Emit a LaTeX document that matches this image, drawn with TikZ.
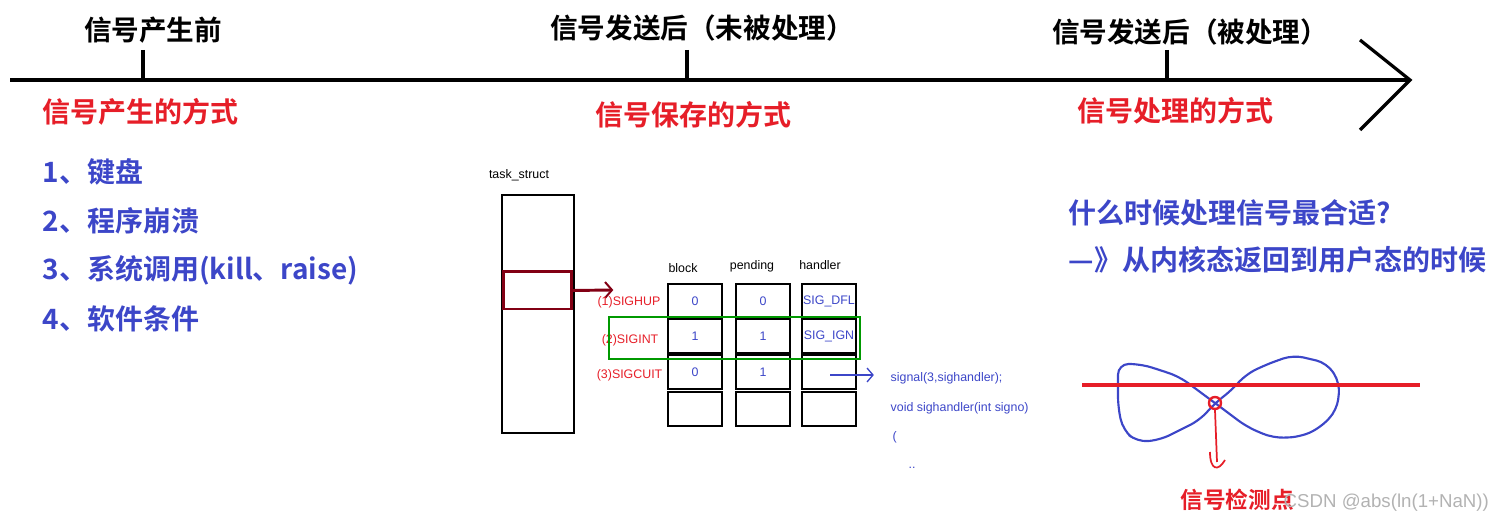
\documentclass[tikz,border=0pt]{standalone}
\usepackage{fontspec}
\setmainfont{Liberation Sans}
\newfontfamily\cjk{Noto Sans CJK SC}[BoldFont={Noto Sans CJK SC Bold}]
\begin{document}
\begin{tikzpicture}[x=0.75pt,y=-0.75pt,
  head/.style={font=\cjk\bfseries\fontsize{20.7}{22}\selectfont},
  redhead/.style={head,text=sigred},
  bluet/.style={font=\cjk\bfseries\fontsize{21}{23}\selectfont,text=sigblue,anchor=west},
  cell/.style={draw,line width=1.6pt,minimum width=40pt,minimum height=26pt,inner sep=0pt},
  small/.style={font=\fontsize{9.3}{11}\selectfont}]
\definecolor{sigred}{RGB}{230,30,40}
\definecolor{sigblue}{RGB}{60,70,200}
\definecolor{dred}{RGB}{130,0,20}
\useasboundingbox (0,0) rectangle (1500,523);
% timeline
\coordinate (tl0) at (10,80); \coordinate (tl1) at (1410,80);
\draw[line width=2.4pt] (tl0) -- (tl1);
\draw[line width=2.4pt] (1360,40) -- (tl1) -- (1360,130);
\foreach \x in {143,687,1167} \draw[line width=2.4pt] (\x,50) -- (\x,80);
\node[head] (hd1) at (153,30) {信号产生前};
\node[head] (hd2) at (702,28) {信号发送后（未被处理）};
\node[head] (hd3) at (1190,32) {信号发送后（被处理）};
\node[redhead,font=\cjk\bfseries\fontsize{21}{23}\selectfont] (r1) at (140,112) {信号产生的方式};
\node[redhead,font=\cjk\bfseries\fontsize{21}{23}\selectfont] (r2) at (693,115) {信号保存的方式};
\node[redhead,font=\cjk\bfseries\fontsize{21}{23}\selectfont] (r3) at (1175,111) {信号处理的方式};
% left list
\node[bluet] (l1) at (38,172) {1、键盘};
\node[bluet] (l2) at (38,221) {2、程序崩溃};
\node[bluet] (l3) at (38,270) {3、系统调用(kill、raise)};
\node[bluet] (l4) at (38,319) {4、软件条件};
% right text
\node[bluet] (q1) at (1064,213) {什么时候处理信号最合适?};
\node[bluet] (q2) at (1064,260) {—》从内核态返回到用户态的时候};
% task struct
\node[small] (ts) at (519,175) {task\_struct};
\draw[line width=1.6pt] (502,195) rectangle (574,433);
\node[draw=dred,line width=2pt,minimum width=51pt,minimum height=28pt,inner sep=0pt] (sig) at (537.5,290.5) {};
\coordinate (sa) at (612,290);
\draw[dred,line width=2.2pt] (sig.east) -- (sa);
\draw[dred,line width=1.5pt] (605,282) -- (sa) -- (605,298);
% tables
\node[small] at (683,268) {block};
\node[small] at (752,266) {pending};
\node[small] at (820,265) {handler};
\foreach \c/\x in {b/695,p/763,h/829}{
  \foreach \r/\y in {1/301.5,2/336,3/372,4/409}{
    \node[cell] (\c\r) at (\x,\y) {};
  }
}
\node[text=sigblue,small] at (b1) {0};
\node[text=sigblue,small] at (b2) {1};
\node[text=sigblue,small] at (b3) {0};
\node[text=sigblue,small] at (p1) {0};
\node[text=sigblue,small] at (p2) {1};
\node[text=sigblue,small] at (p3) {1};
\node[text=sigblue,small] at (h1) {SIG\_DFL};
\node[text=sigblue,small] at (h2) {SIG\_IGN};
\node[text=sigred,small,anchor=east] (s1) at (665,302) {(1)SIGHUP};
\node[text=sigred,small,anchor=east] (s2) at (663,340) {(2)SIGINT};
\node[text=sigred,small,anchor=east] (s3) at (667,375) {(3)SIGCUIT};
\draw[green!60!black,line width=1pt] (609,317) rectangle (860,359);
\coordinate (ha) at (873,375);
\draw[sigblue,line width=1pt] (830,375) -- (ha);
\draw[sigblue,line width=1pt] (867,368) -- (ha) -- (867,382);
\node[text=sigblue,small,anchor=west] (c1) at (886,378) {signal(3,sighandler);};
\node[text=sigblue,small,anchor=west] (c2) at (886,408) {void sighandler(int signo)};
\node[text=sigblue,small,anchor=west] (c3) at (888,437) {(};
\node[text=sigblue,small,anchor=west] (c4) at (904,468) {..};
% bow tie
\draw[sigblue,line width=1.6pt,rounded corners=8pt]
  (1215,403) -- (1200,392) -- (1180,377) -- (1160,370) -- (1140,364) -- (1118,364)
  -- (1118,407) -- (1123,430) -- (1137,442) -- (1160,440) -- (1200,420) -- (1215,403)
  -- (1232,390) -- (1245,375) -- (1265,365) -- (1293,355) -- (1327,363) -- (1340,383)
  -- (1337,410) -- (1320,428) -- (1300,437) -- (1273,438) -- (1247,427) -- cycle;
\draw[sigred,line width=2.4pt] (1082,385) -- (1420,385);
\node[draw=sigred,line width=1.8pt,circle,minimum size=9pt,inner sep=0pt] (pt) at (1215,403) {};
\draw[sigred,line width=1.3pt] (pt.south) -- (1217,462);
\draw[sigred,line width=1.3pt] (1210,452) .. controls (1210,470) and (1218,472) .. (1225,460);
\node[redhead,font=\cjk\bfseries\fontsize{17}{19}\selectfont] (det) at (1237,500) {信号检测点};
\node[text=gray!60,font=\fontsize{14}{16}\selectfont,anchor=west] (wm) at (1279,503) {CSDN @abs(ln(1+NaN))};
\end{tikzpicture}
\end{document}
